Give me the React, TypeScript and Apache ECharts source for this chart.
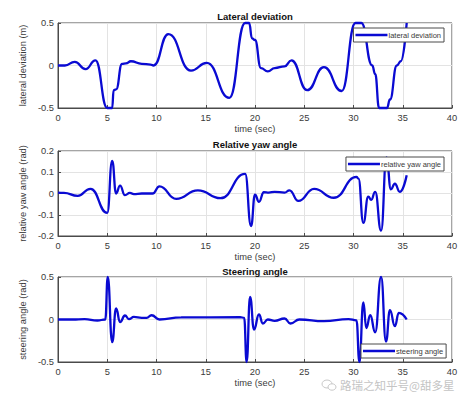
import React, { useEffect, useRef } from "react";
import * as echarts from "echarts";

const timeTicks = [0, 5, 10, 15, 20, 25, 30, 35, 40];

const lateralDeviation: [number, number][] = [
  [0, 0], [0.7, 0.0], [1.7, 0.043], [2.8, -0.043], [3.8, 0.06], [5.0, -0.5], [5.5, -0.5],
  [5.65, -0.29], [5.9, -0.28], [6.5, 0.02], [6.9, 0.025], [7.4, 0.05], [8.5, 0.02],
  [9.4, 0.01], [9.7, 0.0], [11.2, 0.37], [13.5, -0.06], [15.1, 0.03], [17.4, -0.38],
  [19.0, 0.5], [19.4, 0.5], [19.7, 0.32], [20.0, 0.3], [20.6, -0.03], [21.3, -0.07],
  [22.0, -0.03], [23.0, -0.01], [23.7, 0.06], [25.3, -0.29], [27.0, -0.02], [28.8, -0.3],
  [30.2, 0.5], [30.8, 0.5], [31.9, 0], [32.2, -0.1], [32.6, -0.5], [33.4, -0.5],
  [33.7, -0.4], [34.4, 0], [34.8, 0.05], [35.4, 0.5],
];

const relativeYaw: [number, number][] = [
  [0, 0.004], [0.6, 0.003], [2.0, -0.011], [3.3, 0.022], [5.0, -0.091], [5.5, 0.154],
  [5.9, 0.0], [6.3, 0.037], [6.8, -0.008], [7.3, 0.003], [7.7, -0.003], [8.5, 0.0],
  [9.6, 0.0], [10.3, 0.034], [12.0, -0.025], [14.2, 0.015], [16.5, -0.022], [19.0, 0.092],
  [19.6, -0.153], [20.0, -0.005], [20.4, -0.039], [20.9, 0.006], [21.4, 0.004],
  [22.0, 0.008], [23.0, 0.004], [23.5, 0.015], [24.4, -0.035], [26.0, 0.022],
  [28.0, -0.02], [30.3, 0.078], [30.5, 0.07], [31.0, -0.138], [31.5, -0.015],
  [31.8, -0.03], [32.2, 0.008], [32.8, -0.175], [33.35, 0.17], [33.8, 0.02],
  [34.2, 0.046], [34.7, 0.008], [35.4, 0.086],
];

const steeringAngle: [number, number][] = [
  [0, 0.0], [1.5, 0.0], [2.7, 0.005], [4.0, -0.012], [4.8, 0.0], [5.05, 0.5],
  [5.5, -0.267], [5.9, 0.13], [6.3, -0.03], [6.8, 0.047], [7.2, 0.005], [7.7, 0.03],
  [8.5, 0.02], [9.0, 0.02], [9.5, 0.05], [10.3, 0.0], [12.5, 0.025], [18.5, 0.027],
  [18.9, 0.02], [19.15, -0.5], [19.5, 0.267], [19.9, -0.118], [20.4, 0.059],
  [20.8, -0.047], [21.3, 0.0], [22.0, -0.015], [23.0, 0.012], [23.6, -0.047],
  [24.5, 0.0], [27.0, -0.02], [29.5, 0.005], [30.3, -0.01], [30.6, -0.5], [31.0, 0.2],
  [31.3, -0.1], [31.7, 0.05], [32.2, -0.15], [32.8, 0.5], [33.3, -0.26], [33.7, 0.11],
  [34.2, -0.078], [34.6, 0.078], [35.4, 0.0],
];

const titles = ["Lateral deviation", "Relative yaw angle", "Steering angle"];
const yNames = ["lateral deviation (m)", "relative yaw angle (rad)", "steering angle (rad)"];
const legendNames = ["lateral deviation", "relative yaw angle", "steering angle"];
const yRanges = [
  { min: -0.5, max: 0.5, interval: 0.5 },
  { min: -0.2, max: 0.2, interval: 0.1 },
  { min: -0.5, max: 0.5, interval: 0.5 },
];
const xLabel = "time (sec)";
const watermark = "路瑞之知乎号@甜多星";

const FONT = "Liberation Sans, Arial, sans-serif";
const LINE_COLOR = "#0a0ad2";
const AXIS_COLOR = "#4a4a4a";
const TEXT_COLOR = "#3a3a3a";

export default function App() {
  const ref = useRef<HTMLDivElement>(null);

  useEffect(() => {
    document.body.style.margin = "0";
    if (!ref.current) return;
    const chart = echarts.init(ref.current, undefined, { renderer: "svg" });

    const grids = [
      { left: 58, top: 23, width: 394, height: 85 },
      { left: 58, top: 151, width: 394, height: 85 },
      { left: 58, top: 277, width: 394, height: 85 },
    ];
    const legendPos = [
      { right: 30, top: 28 },
      { right: 30, top: 157 },
      { left: 361, top: 344 },
    ];
    const datasets = [lateralDeviation, relativeYaw, steeringAngle];

    const option: any = {
      animation: false,
      backgroundColor: "#ffffff",
      grid: grids.map((g) => ({
        ...g,
        show: true,
        borderColor: AXIS_COLOR,
        borderWidth: 1,
        backgroundColor: "transparent",
      })),
      xAxis: grids.map((_, i) => ({
        type: "value",
        gridIndex: i,
        min: timeTicks[0],
        max: timeTicks[timeTicks.length - 1],
        interval: 5,
        name: xLabel,
        nameLocation: "middle",
        nameGap: 16,
        nameTextStyle: { fontFamily: FONT, fontSize: 9.3, color: TEXT_COLOR },
        axisLine: { show: true, onZero: false, lineStyle: { color: AXIS_COLOR, width: 1 } },
        axisTick: { show: true, inside: true, length: 3, lineStyle: { color: AXIS_COLOR } },
        axisLabel: { margin: 5, fontFamily: FONT, fontSize: 9.3, color: TEXT_COLOR },
        splitLine: { show: true, lineStyle: { color: "#e3e3e3", width: 1 } },
      })),
      yAxis: grids.map((_, i) => ({
        type: "value",
        gridIndex: i,
        min: yRanges[i].min,
        max: yRanges[i].max,
        interval: yRanges[i].interval,
        name: yNames[i],
        nameLocation: "middle",
        nameRotate: 90,
        nameGap: 21,
        nameTextStyle: { fontFamily: FONT, fontSize: 9.3, color: TEXT_COLOR },
        axisLine: { show: true, onZero: false, lineStyle: { color: AXIS_COLOR, width: 1 } },
        axisTick: { show: true, inside: true, length: 3, lineStyle: { color: AXIS_COLOR } },
        axisLabel: { margin: 4, fontFamily: FONT, fontSize: 9.3, color: TEXT_COLOR },
        splitLine: { show: true, lineStyle: { color: "#e3e3e3", width: 1 } },
      })),
      legend: legendNames.map((n, i) => ({
        ...legendPos[i],
        orient: "vertical",
        data: [{ name: n, icon: "rect" }],
        itemWidth: 32,
        itemHeight: 2.5,
        itemGap: 0,
        padding: [3, 3, 3, 2],
        backgroundColor: "#ffffff",
        borderColor: AXIS_COLOR,
        borderWidth: 1,
        borderRadius: 0,
        z: 10,
        textStyle: { fontFamily: FONT, fontSize: 7.5, color: TEXT_COLOR, padding: [0, 0, 0, -4] },
        selectedMode: false,
      })),
      series: datasets.map((d, i) => ({
        type: "line",
        name: legendNames[i],
        xAxisIndex: i,
        yAxisIndex: i,
        data: d,
        showSymbol: false,
        symbol: "none",
        smooth: 0.5,
        smoothMonotone: "x",
        clip: false,
        color: LINE_COLOR,
        lineStyle: { color: LINE_COLOR, width: 2.3 },
        z: 3,
      })),
      graphic: [
        ...titles.map((t, i) => ({
          type: "text",
          x: 255,
          y: [16, 144, 271][i],
          style: {
            text: t,
            align: "center",
            verticalAlign: "middle",
            font: `bold 9.5px ${FONT}`,
            fill: "#111111",
          },
          z: 20,
        })),
        {
          type: "group",
          x: 322,
          y: 385,
          z: 30,
          children: [
            { type: "ellipse", shape: { cx: 5, cy: -1, rx: 5, ry: 4 }, style: { fill: "none", stroke: "#c8c8c8", lineWidth: 1 } },
            { type: "ellipse", shape: { cx: 10, cy: 2, rx: 4, ry: 3.2 }, style: { fill: "#ffffff", stroke: "#c8c8c8", lineWidth: 1 } },
            {
              type: "text",
              x: 18,
              y: 0,
              style: {
                text: watermark,
                align: "left",
                verticalAlign: "middle",
                font: `11.5px "Noto Sans CJK SC", sans-serif`,
                fill: "#c4c4c4",
                stroke: "#ffffff",
                lineWidth: 1,
              },
            },
          ],
        },
      ],
    };

    chart.setOption(option);
    return () => chart.dispose();
  }, []);

  return (
    <div
      ref={ref}
      style={{ position: "fixed", left: 0, top: 0, width: 474, height: 399, background: "#fff" }}
    />
  );
}
